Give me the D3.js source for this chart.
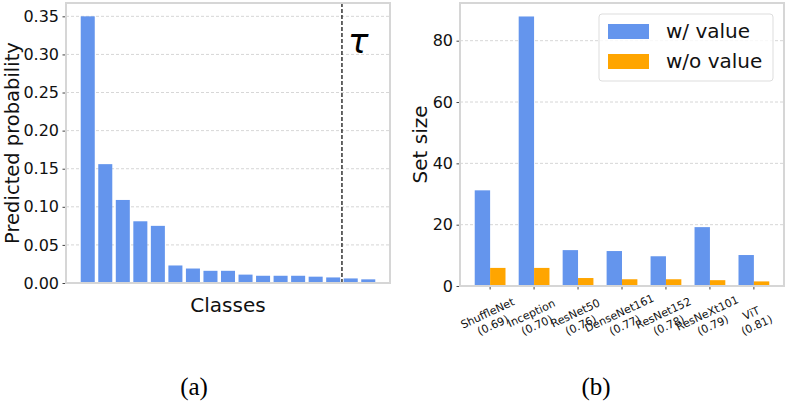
<!DOCTYPE html>
<html>
<head>
<meta charset="utf-8">
<script src="https://cdn.jsdelivr.net/npm/d3@7"></script>
<style>
  body { margin: 0; background: #fff; }
  svg { display: block; font-family: "DejaVu Sans", sans-serif; }
</style>
</head>
<body>
<div id="wrapper"></div>
<script>
// (a) sorted class probabilities
const classProbs = [0.350, 0.156, 0.109, 0.081, 0.075, 0.023, 0.019, 0.016, 0.016,
  0.011, 0.0095, 0.0095, 0.0095, 0.0083, 0.0073, 0.006, 0.0048];
const tauPosition = 14.5;
const probTicks = [0, 0.05, 0.1, 0.15, 0.2, 0.25, 0.3, 0.35];

// (b) set size per model
const models = ["ShuffleNet", "Inception", "ResNet50", "DenseNet161", "ResNet152", "ResNeXt101", "ViT"];
const accuracies = ["0.69", "0.70", "0.76", "0.77", "0.78", "0.79", "0.81"];
const withValue = [31.2, 87.9, 11.7, 11.4, 9.7, 19.2, 10.1];
const withoutValue = [5.9, 5.9, 2.6, 2.2, 2.2, 1.9, 1.5];
const sizeTicks = [0, 20, 40, 60, 80];
const seriesNames = ["w/ value", "w/o value"];

const blue = "#6495ED";
const orange = "#FFA500";
const frameColor = "#d6d6d6";
const gridColor = "#cccccc";

const svg = d3.select("#wrapper").append("svg")
  .attr("width", 788).attr("height", 406);

function drawFrame(g, x0, x1, y0, y1) {
  g.append("rect")
    .attr("x", x0).attr("y", y0)
    .attr("width", x1 - x0).attr("height", y1 - y0)
    .attr("fill", "none")
    .attr("stroke", frameColor)
    .attr("stroke-width", 2);
}

function drawYAxis(g, yScale, ticks, x0, x1, fmt) {
  g.append("g").selectAll("line").data(ticks).enter().append("line")
    .attr("x1", x0).attr("x2", x1)
    .attr("y1", d => yScale(d)).attr("y2", d => yScale(d))
    .attr("stroke", gridColor)
    .attr("stroke-width", 0.8)
    .style("stroke-dasharray", "3 2");

  const axis = g.append("g")
    .attr("transform", `translate(${x0},0)`)
    .call(d3.axisLeft(yScale).tickValues(ticks).tickSize(3.5).tickPadding(3.5).tickFormat(fmt));
  axis.select(".domain").remove();
  axis.selectAll(".tick line").attr("stroke", "#444");
  axis.selectAll(".tick text")
    .attr("fill", "#111")
    .style("font-family", "DejaVu Sans")
    .style("font-size", "16px");
}

// ---------- (a) ----------
const a = { left: 66, right: 390, top: 3, bottom: 283 };
const gA = svg.append("g");

const xA = d3.scaleLinear()
  .domain([-1.24, classProbs.length - 1 + 1.24])
  .range([a.left, a.right]);
const yA = d3.scaleLinear()
  .domain([0, d3.max(classProbs) * 1.05])
  .range([a.bottom, a.top]);

drawYAxis(gA, yA, probTicks, a.left, a.right, d3.format(".2f"));

gA.append("g").selectAll("rect").data(classProbs).enter().append("rect")
  .attr("x", (d, i) => xA(i - 0.4))
  .attr("width", (d, i) => xA(i + 0.4) - xA(i - 0.4))
  .attr("y", d => yA(d))
  .attr("height", d => yA(0) - yA(d))
  .attr("fill", blue);

gA.append("line")
  .attr("x1", xA(tauPosition)).attr("x2", xA(tauPosition))
  .attr("y1", a.top).attr("y2", a.bottom)
  .attr("stroke", "#000")
  .attr("stroke-width", 1.2)
  .style("stroke-dasharray", "4 2");

gA.append("text")
  .attr("x", xA(tauPosition) + 6)
  .attr("y", 53)
  .style("font-size", "34px")
  .style("font-style", "italic")
  .attr("fill", "#000")
  .text("τ");

drawFrame(gA, a.left, a.right, a.top, a.bottom);

gA.append("text")
  .attr("x", (a.left + a.right) / 2)
  .attr("y", 312)
  .attr("text-anchor", "middle")
  .style("font-size", "20px")
  .attr("fill", "#111")
  .text("Classes");

gA.append("text")
  .attr("transform", `translate(18.5,${(a.top + a.bottom) / 2}) rotate(-90)`)
  .attr("text-anchor", "middle")
  .style("font-size", "19.5px")
  .attr("fill", "#111")
  .text("Predicted probability");

svg.append("text")
  .attr("x", 194).attr("y", 395)
  .attr("text-anchor", "middle")
  .style("font-family", "Liberation Serif, serif")
  .style("font-size", "25px")
  .attr("fill", "#000")
  .text("(a)");

// ---------- (b) ----------
const b = { left: 460, right: 784, top: 3, bottom: 286 };
const gB = svg.append("g");
const barW = 0.35;

const xB = d3.scaleLinear()
  .domain([-barW - 0.335, models.length - 1 + barW + 0.335])
  .range([b.left, b.right]);
const yB = d3.scaleLinear()
  .domain([0, d3.max(withValue) * 1.05])
  .range([b.bottom, b.top]);

drawYAxis(gB, yB, sizeTicks, b.left, b.right, d3.format("d"));

const series = [
  { name: seriesNames[0], values: withValue, color: blue, offset: -barW },
  { name: seriesNames[1], values: withoutValue, color: orange, offset: 0 },
];

series.forEach(s => {
  gB.append("g").selectAll("rect").data(s.values).enter().append("rect")
    .attr("x", (d, i) => xB(i + s.offset))
    .attr("width", (d, i) => xB(i + s.offset + barW) - xB(i + s.offset))
    .attr("y", d => yB(d))
    .attr("height", d => yB(0) - yB(d))
    .attr("fill", s.color);
});

// x ticks
gB.append("g").selectAll("line").data(models).enter().append("line")
  .attr("x1", (d, i) => xB(i)).attr("x2", (d, i) => xB(i))
  .attr("y1", b.bottom).attr("y2", b.bottom + 3.5)
  .attr("stroke", "#444");

const xLabels = gB.append("g").selectAll("g").data(models).enter().append("g")
  .attr("transform", (d, i) => `translate(${xB(i)},319) rotate(-25)`);
xLabels.append("text")
  .attr("text-anchor", "middle")
  .attr("y", -2.6)
  .style("font-size", "11px")
  .attr("fill", "#111")
  .text(d => d);
xLabels.append("text")
  .attr("text-anchor", "middle")
  .attr("y", 10.6)
  .style("font-size", "11px")
  .attr("fill", "#111")
  .text((d, i) => `(${accuracies[i]})`);

drawFrame(gB, b.left, b.right, b.top, b.bottom);

// legend
const legend = gB.append("g");
legend.append("rect")
  .attr("x", 599).attr("y", 14)
  .attr("width", 174).attr("height", 67)
  .attr("rx", 3)
  .attr("fill", "#fff")
  .attr("fill-opacity", 0.8)
  .attr("stroke", "#dddddd");
series.forEach((s, i) => {
  legend.append("rect")
    .attr("x", 608).attr("y", 24 + i * 30)
    .attr("width", 41).attr("height", 15)
    .attr("fill", s.color);
  legend.append("text")
    .attr("x", 666).attr("y", 38 + i * 30)
    .style("font-size", "20px")
    .attr("fill", "#111")
    .text(s.name);
});

gB.append("text")
  .attr("transform", `translate(427,${(b.top + b.bottom) / 2}) rotate(-90)`)
  .attr("text-anchor", "middle")
  .style("font-size", "20px")
  .attr("fill", "#111")
  .text("Set size");

svg.append("text")
  .attr("x", 596).attr("y", 395)
  .attr("text-anchor", "middle")
  .style("font-family", "Liberation Serif, serif")
  .style("font-size", "25px")
  .attr("fill", "#000")
  .text("(b)");
</script>
</body>
</html>
